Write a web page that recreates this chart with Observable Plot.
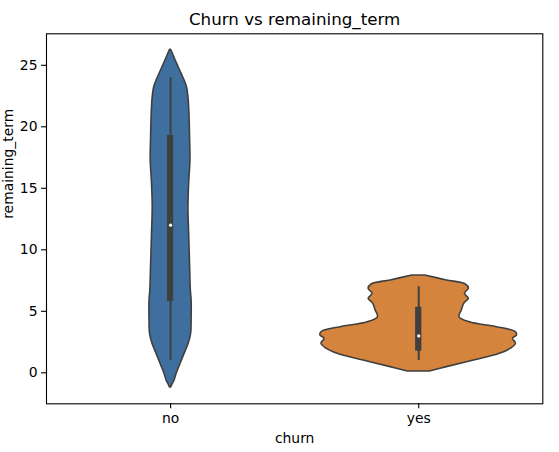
<!DOCTYPE html>
<html>
<head>
<meta charset="utf-8">
<script src="https://cdn.jsdelivr.net/npm/d3@7"></script>
<script src="https://cdn.jsdelivr.net/npm/@observablehq/plot@0.6"></script>
<style>
  html, body { margin: 0; padding: 0; background: #fff; }
  #chart { width: 559px; height: 452px; }
</style>
</head>
<body>
<div id="chart"></div>
<script>
// Categories
const categories = ["no", "yes"];

// Violin profiles: remaining_term value and density
// (density relative to the widest violin = 1)
const noValues = [26.26, 25.93, 25.39, 24.85, 24.31, 23.76, 23.22, 22.41, 21.06, 18.88, 17.26, 15.37, 13.46, 11.31, 8.59, 6.70, 5.88, 4.25, 3.17, 2.36, 1.54, 0.73, -0.08, -0.63, -0.95, -1.20];
const noDensity = [0.005, 0.023, 0.051, 0.081, 0.111, 0.141, 0.165, 0.180, 0.190, 0.197, 0.200, 0.187, 0.180, 0.187, 0.197, 0.204, 0.212, 0.212, 0.207, 0.182, 0.141, 0.101, 0.061, 0.040, 0.020, 0.005];

const yesValues = [7.91, 7.51, 7.18, 6.83, 6.42, 6.02, 5.61, 5.07, 4.52, 4.11, 3.71, 3.30, 3.03, 2.77, 2.36, 1.96, 1.54, 1.00, 0.46, 0.10];
const yesDensity = [0.064, 0.283, 0.475, 0.505, 0.465, 0.505, 0.458, 0.434, 0.411, 0.515, 0.788, 0.980, 0.990, 0.949, 0.980, 0.929, 0.818, 0.556, 0.283, 0.111];

// Inner box statistics per category
const whiskerLow = [1, 1];
const quartile1 = [5.8, 1.76];
const medians = [12, 3];
const quartile3 = [19.29, 5.33];
const whiskerHigh = [24, 7];

// Y ticks
const yTicks = [0, 5, 10, 15, 20, 25];

const fills = ["#3e6f9f", "#d5843d"];
const gray = "#3f3f3f";
const halfWidth = 0.4;   // seaborn width 0.8
const boxHalf = 0.0125;

const violin = [];
[[noValues, noDensity], [yesValues, yesDensity]].forEach(([vals, dens], i) => {
  vals.forEach((v, j) => violin.push({cat: categories[i], idx: i, value: v, density: dens[j]}));
});
const stats = categories.map((c, i) => ({
  cat: c, idx: i, lo: whiskerLow[i], q1: quartile1[i], med: medians[i], q3: quartile3[i], hi: whiskerHigh[i]
}));

const plot = Plot.plot({
  width: 559,
  height: 452,
  marginLeft: 46,
  marginRight: 16.7,
  marginTop: 33.3,
  marginBottom: 48.7,
  style: {fontFamily: "DejaVu Sans", fontSize: "13.9px", color: "#000", background: "#fff"},
  x: {domain: [-0.5, 1.5], axis: null},
  y: {domain: [-2.52, 27.56], axis: null},
  marks: [
    Plot.areaX(violin, {
      y: "value",
      x1: d => d.idx - d.density * halfWidth,
      x2: d => d.idx + d.density * halfWidth,
      z: "cat",
      fill: d => fills[d.idx],
      stroke: gray,
      strokeWidth: 1.6,
      curve: "catmull-rom"
    }),
    Plot.ruleX(stats, {x: "idx", y1: "lo", y2: "hi", stroke: gray, strokeWidth: 2}),
    Plot.rect(stats, {x1: d => d.idx - boxHalf, x2: d => d.idx + boxHalf, y1: "q1", y2: "q3", fill: gray}),
    Plot.dot(stats, {x: "idx", y: "med", r: 1.6, fill: "#fff", stroke: "none"}),
    Plot.frame({stroke: "#000", strokeWidth: 1.1}),
    Plot.axisY(yTicks, {tickSize: 5, tickPadding: 4, strokeWidth: 1.1, label: null, fontSize: "13.9px"}),
    Plot.axisX([0, 1], {tickSize: 5, tickPadding: 4, strokeWidth: 1.1, tickFormat: i => categories[i], label: null, fontSize: "13.9px"}),
    Plot.text(["churn"], {frameAnchor: "bottom", lineAnchor: "middle", dy: 35, fontSize: "13.9px", fill: "#000"}),
    Plot.text(["remaining_term"], {frameAnchor: "left", lineAnchor: "middle", dx: -38, rotate: -90, fontSize: "13.9px", fill: "#000"}),
    Plot.text(["Churn vs remaining_term"], {frameAnchor: "top", lineAnchor: "middle", dy: -14, fontSize: "16.7px", fill: "#000"})
  ]
});
document.getElementById("chart").appendChild(plot);
</script>
</body>
</html>
